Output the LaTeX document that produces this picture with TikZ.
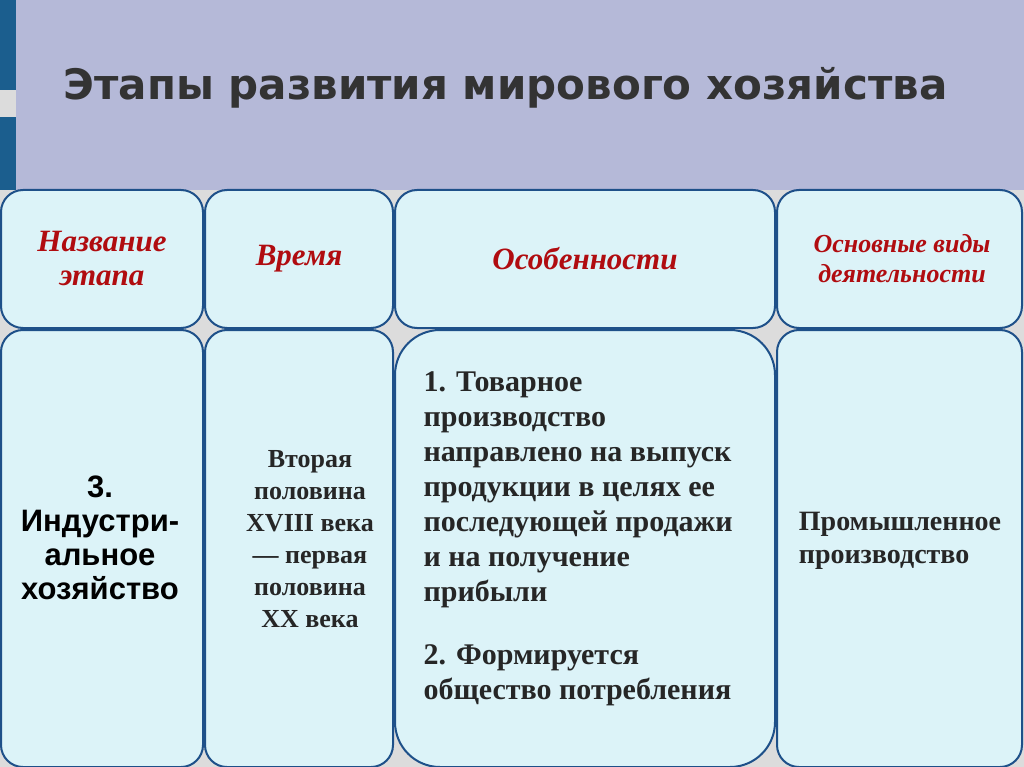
\documentclass[tikz,border=0pt]{standalone}
\usepackage{fontspec}
\setmainfont{Liberation Serif}
\newfontfamily\titlefont{DejaVu Sans}
\newfontfamily\sansbold{Liberation Sans}
\usetikzlibrary{positioning}
\definecolor{bandlav}{HTML}{B5B9D8}
\definecolor{stripblue}{HTML}{1B5E8E}
\definecolor{boxfill}{HTML}{DCF3F8}
\definecolor{boxline}{HTML}{1E5089}
\definecolor{headred}{HTML}{B00C10}
\definecolor{bggray}{HTML}{DCDCDC}
\tikzset{
  cell/.style={draw=boxline, line width=2pt, fill=boxfill, rounded corners=22pt},
  headtxt/.style={text=headred, font=\bfseries\itshape\fontsize{31}{34}\selectfont, align=center},
  bodytxt/.style={font=\bfseries\fontsize{30}{35}\selectfont, text=black!85}
}
\begin{document}
\begin{tikzpicture}[x=1pt, y=-1pt]
\useasboundingbox (0,0) rectangle (1024,767);
% background
\fill[bggray] (0,0) rectangle (1024,767);
\fill[bandlav] (16,0) rectangle (1024,190);
\fill[stripblue] (0,0) rectangle (16,90);
\fill[stripblue] (0,117) rectangle (16,190);
\node[font=\titlefont\bfseries\fontsize{42}{48}\selectfont, text=black!80, anchor=west] (title) at (60,88) {Этапы развития мирового хозяйства};

% header row
\draw[cell] (1,190) rectangle (203,328);
\draw[cell] (205,190) rectangle (393,328);
\draw[cell] (395,190) rectangle (775,328);
\draw[cell] (777,190) rectangle (1022,328);
\node[headtxt] (hname) at (102,259) {Название\\этапа};
\node[headtxt] (htime) at (299,259) {Время};
\node[headtxt] (hfeat) at (585,259) {Особенности};
\node[headtxt, font=\bfseries\itshape\fontsize{26}{30}\selectfont] (hkind) at (902,259) {Основные виды\\деятельности};

% body row
\draw[cell] (1,330) rectangle (203,767);
\draw[cell] (205,330) rectangle (393,767);
\draw[cell, rounded corners=45pt] (395,330) rectangle (775,767);
\draw[cell] (777,330) rectangle (1022,767);
\node[font=\sansbold\bfseries\fontsize{31}{34}\selectfont, align=center] (bname) at (100,538) {3.\\Индустри-\\альное\\хозяйство};
\node[bodytxt, align=center, font=\bfseries\fontsize{26}{32}\selectfont] (btime) at (310,539) {Вторая\\половина\\XVIII века\\— первая\\половина\\XX века};
\node[bodytxt, align=left, anchor=north west] (bfeat) at (420,368) {1. Товарное\\производство\\направлено на выпуск\\продукции в целях ее\\последующей продажи\\и на получение\\прибыли\\[28pt]2. Формируется\\общество потребления};
\node[bodytxt, align=left, font=\bfseries\fontsize{28}{33}\selectfont] (bkind) at (900,541) {Промышленное\\производство};
\end{tikzpicture}
\end{document}
